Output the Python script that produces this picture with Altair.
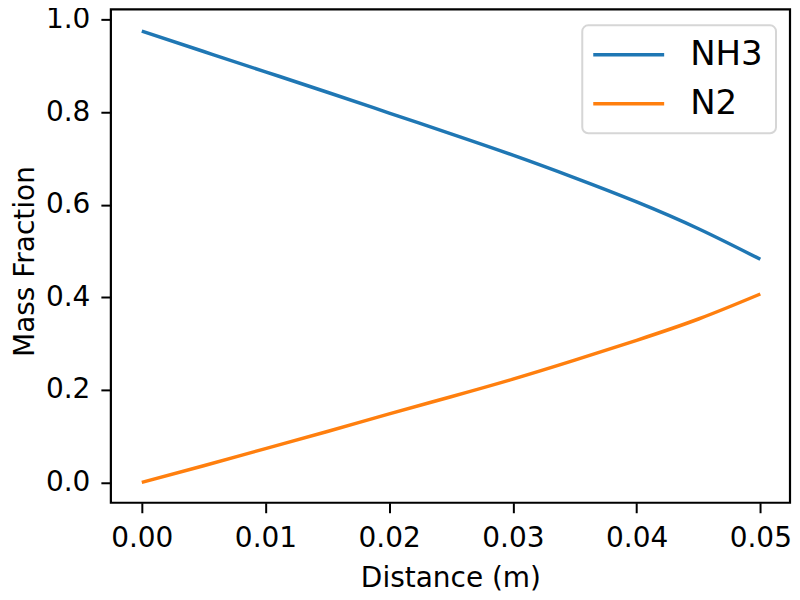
import altair as alt
import pandas as pd

distance = [0.0, 0.005, 0.01, 0.015, 0.02, 0.025, 0.03, 0.035, 0.04, 0.045, 0.05]
nh3 = [0.975, 0.931, 0.887, 0.843, 0.798, 0.753, 0.707, 0.658, 0.606, 0.548, 0.482]
n2 = [0.0, 0.036, 0.073, 0.110, 0.148, 0.185, 0.223, 0.264, 0.307, 0.353, 0.407]
species = ["NH3", "N2"]
colors = ["#1f77b4", "#ff7f0e"]
x_ticks = [0.0, 0.01, 0.02, 0.03, 0.04, 0.05]
y_ticks = [0.0, 0.2, 0.4, 0.6, 0.8, 1.0]

rows = []
for name, vals in zip(species, [nh3, n2]):
    for d, v in zip(distance, vals):
        rows.append({"distance": d, "value": v, "species": name})
df = pd.DataFrame(rows)

FONT = "DejaVu Sans"

chart = alt.Chart(df).mark_line(strokeWidth=3.5, interpolate="natural").encode(
    x=alt.X("distance:Q",
            scale=alt.Scale(domain=[-0.0025, 0.0524], nice=False, zero=False),
            axis=alt.Axis(title="Distance (m)", values=x_ticks, format=".2f",
                          labelBaseline="alphabetic", labelPadding=34,
                          labelFlush=False, labelOverlap=False,
                          titleY=84, titleBaseline="alphabetic")),
    y=alt.Y("value:Q",
            scale=alt.Scale(domain=[-0.044, 1.022], nice=False, zero=False),
            axis=alt.Axis(title="Mass Fraction", values=y_ticks, format=".1f",
                          labelBaseline="middle", labelPadding=11,
                          labelFlush=False, labelOverlap=False,
                          titleX=-77, titleY=252, titleAngle=270,
                          titleAlign="center", titleBaseline="alphabetic")),
    color=alt.Color("species:N",
                    scale=alt.Scale(domain=species, range=colors),
                    legend=alt.Legend(title=None, orient="none",
                                      legendX=472, legendY=16,
                                      symbolType="M-1.85,0H5.25", symbolSize=400,
                                      symbolStrokeWidth=3.5,
                                      labelFontSize=34, labelFont=FONT,
                                      labelColor="black", labelBaseline="middle",
                                      labelOffset=61.5, rowPadding=15,
                                      padding=12.5, strokeColor="#d6d6d6",
                                      fillColor="white", cornerRadius=6)),
).properties(
    width=680, height=494,
    autosize=alt.AutoSizeParams(type="none"),
    padding={"left": 103, "top": 1, "right": 2, "bottom": 95},
).configure_view(
    stroke="black", strokeWidth=2.2
).configure_axis(
    domain=False, grid=False, tickColor="black", tickWidth=2, tickSize=10,
    labelFont=FONT, labelFontSize=28, labelColor="black",
    titleFont=FONT, titleFontSize=28, titleFontWeight="normal", titleColor="black",
).configure_legend(
    strokeWidth=2
)

chart.save("out.html", embed_options={"renderer": "svg", "actions": False})
